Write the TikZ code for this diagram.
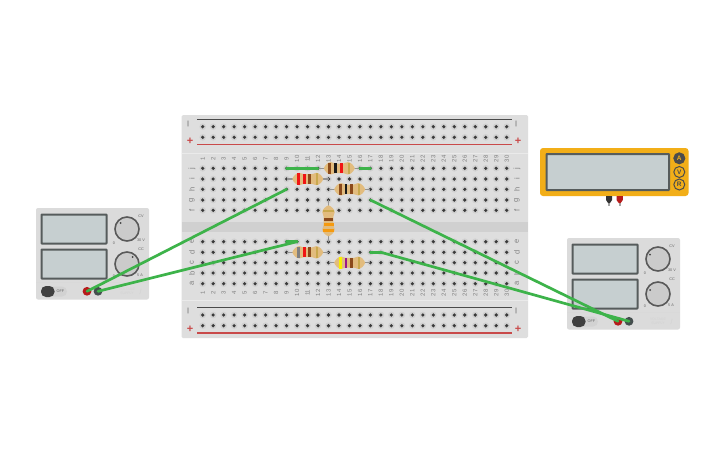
\documentclass[tikz,border=0pt]{standalone}
\usepackage{fontspec}
\setmainfont{Liberation Sans}
\definecolor{boardc}{HTML}{DEDEDE}
\definecolor{bandc}{HTML}{D0D0D0}
\definecolor{sepc}{HTML}{EAEAEA}
\definecolor{haloc}{HTML}{D0D0D0}
\definecolor{holec}{HTML}{3A3A3A}
\definecolor{labelc}{HTML}{808080}
\definecolor{wirec}{HTML}{3DB34A}
\definecolor{railred}{HTML}{C94A4A}
\definecolor{railblack}{HTML}{4A4A4A}
\definecolor{tan}{HTML}{E2BC7E}
\definecolor{rbrown}{HTML}{8B4A1C}
\definecolor{rblack}{HTML}{1A1A1A}
\definecolor{rred}{HTML}{F01414}
\definecolor{rorange}{HTML}{F59A0F}
\definecolor{ryellow}{HTML}{F7F000}
\definecolor{rviolet}{HTML}{9A1A8C}
\definecolor{rgrey}{HTML}{808080}
\definecolor{rgold}{HTML}{C9A94E}
\definecolor{lcd}{HTML}{C6CFD0}
\definecolor{lcdframe}{HTML}{565C5C}
\definecolor{psubody}{HTML}{DBDBDB}
\definecolor{knobc}{HTML}{CBCBCB}
\definecolor{meterc}{HTML}{F2AE18}
\definecolor{termred}{HTML}{B71C1C}
\definecolor{termdark}{HTML}{454E4E}
\tikzset{
  boardbody/.style={fill=boardc,rounded corners=1.5},
  rowlabel/.style={font=\fontsize{6}{6}\selectfont,text=labelc,rotate=90,inner sep=0pt},
  signminus/.style={font=\fontsize{12}{12}\selectfont,text=labelc,inner sep=0pt},
  signplus/.style={font=\bfseries\fontsize{11}{11}\selectfont,text=railred,inner sep=0pt},
  wire/.style={draw=wirec,line width=2.7pt,line cap=round},
  lead/.style={draw=gray!85,line width=1.4pt},
  lcdbox/.style={fill=lcd,draw=lcdframe,line width=2pt,rounded corners=0.5},
  knobstyle/.style={fill=knobc,draw=gray!70!black,line width=1.6pt},
  tiny/.style={font=\fontsize{3.8}{4}\selectfont,text=gray!80!black,inner sep=0pt},
  faint/.style={font=\fontsize{3.4}{3.8}\selectfont,text=gray!35,inner sep=0pt,align=center},
  meterbtn/.style={circle,draw=black!70,line width=1pt,minimum size=11pt,inner sep=0pt,font=\bfseries\fontsize{6.5}{6.5}\selectfont,text=black!70},
}
% centre x, centre y, rotation, colours of bands 1-4
\newcommand{\resistorbody}[7]{%
  \begin{scope}[shift={(#1,#2)},rotate=#3]
    \fill[tan] (-15.5,0) .. controls (-14.5,-2.8) and (-11.5,-6.2) .. (-8.5,-6.2)
      .. controls (-6.5,-6.2) and (-6,-4.8) .. (-4,-4.8) -- (4,-4.8)
      .. controls (6,-4.8) and (6.5,-6.2) .. (8.5,-6.2)
      .. controls (11.5,-6.2) and (14.5,-2.8) .. (15.5,0)
      .. controls (14.5,2.8) and (11.5,6.2) .. (8.5,6.2)
      .. controls (6.5,6.2) and (6,4.8) .. (4,4.8) -- (-4,4.8)
      .. controls (-6,4.8) and (-6.5,6.2) .. (-8.5,6.2)
      .. controls (-11.5,6.2) and (-14.5,2.8) .. (-15.5,0) -- cycle;
    \fill[#4] (-11,-5.8) rectangle (-8,5.8);
    \fill[#5] (-5.1,-5) rectangle (-2.3,5);
    \fill[#6] (0.2,-4.9) rectangle (3.2,4.9);
    \fill[#7] (8.5,-5.8) rectangle (10.4,5.8);
  \end{scope}}
% PSU: x and y offset, knob dots
\newcommand{\psu}[7]{%
  \begin{scope}[shift={(#1,#2)}]
    \fill[psubody,rounded corners=2] (36,208) rectangle (149,299.5);
    \draw[gray!30,line width=0.5pt] (36,282) -- (149,282);
    \draw[lcdbox] (41.5,214.5) rectangle (106.5,243.5);
    \draw[lcdbox] (41.5,249.5) rectangle (106.5,278.5);
    \draw[knobstyle] (127,229) circle (12);
    \draw[knobstyle] (127,264) circle (12);
    \fill[black!75] (#3,#4) circle (1);
    \fill[black!75] (#5,#6) circle (1);
    \node[tiny,name=#7a] at (141,216) {CV};
    \node[tiny,name=#7b] at (114,243) {0};
    \node[tiny,name=#7c] at (141,240) {30 V};
    \node[tiny,name=#7d] at (141,249.5) {CC};
    \node[tiny,name=#7e] at (114,276) {0};
    \node[tiny,name=#7f] at (140,275.5) {5 A};
    \fill[gray!35,rounded corners=5] (42,286.5) rectangle (67,296.5);
    \fill[black!75,rounded corners=5] (41,286) rectangle (54.5,297);
    \node[tiny,name=#7g] at (60.5,291.5) {OFF};
    \node[faint,name=#7h] at (127,291.5) {VOLTAGE\\SUPPLY};
    \node[faint,name=#7i,font=\fontsize{7}{7}\selectfont] at (140.5,291.5) {\char"2F};
  \end{scope}}
\begin{document}
\begin{tikzpicture}[x=1pt,y=-1pt]
\useasboundingbox (0,0) rectangle (725,453);
\fill[white] (0,0) rectangle (725,453);
% breadboard
\fill[boardbody] (181.5,115) rectangle (528,338);
\fill[bandc] (181.5,222) rectangle (528,232);
\draw[sepc,line width=0.8pt] (181.5,153) -- (528,153);
\draw[sepc,line width=0.8pt] (181.5,300) -- (528,300);
\draw[railblack,line width=1.2pt] (197,119.3) -- (512,119.3);
\draw[railred,line width=1.2pt] (197,144.3) -- (512,144.3);
\draw[railblack,line width=1.2pt] (197,307.7) -- (512,307.7);
\draw[railred,line width=1.2pt] (197,333) -- (512,333);
\node[signminus,rotate=90,name=m1] at (190,123.5) {−};
\node[signminus,rotate=90,name=m2] at (518,123.5) {−};
\node[signminus,rotate=90,name=m3] at (190,311) {−};
\node[signminus,rotate=90,name=m4] at (518,311) {−};
\node[signplus,name=p1] at (190,141.5) {+};
\node[signplus,name=p2] at (518,141.5) {+};
\node[signplus,name=p3] at (190,329.5) {+};
\node[signplus,name=p4] at (518,329.5) {+};
% holes
\foreach \r/\yy in {pa/126.7,pb/137.3,j/168.3,i/179,h/189.3,g/200,f/210.3,e/241.7,d/252.3,c/262.7,b/273,a/283.7,qa/315,qb/325.7}{
  \foreach \c in {1,...,30}{
    \pgfmathsetmacro{\xx}{202.7+(\c-1)*10.483}
    \fill[haloc] (\xx,\yy) circle (3.3);
    \fill[holec] (\xx,\yy) circle (1.8);
    \coordinate (\r\c) at (\xx,\yy);
  }
}
% labels
\foreach \c in {1,...,30}{
  \pgfmathsetmacro{\xx}{202.7+(\c-1)*10.483}
  \node[rowlabel,name=nt\c] at (\xx,158.8) {\c};
  \node[rowlabel,name=nb\c] at (\xx,292.8) {\c};
}
\foreach \r/\yy in {j/168.3,i/179,h/189.3,g/200,f/210.3,e/241.7,d/252.3,c/262.7,b/273,a/283.7}{
  \node[rowlabel,name=ll\r,font=\fontsize{7.5}{7.5}\selectfont] at (192,\yy) {\r};
  \node[rowlabel,name=lr\r,font=\fontsize{7.5}{7.5}\selectfont] at (517,\yy) {\r};
}
% multimeter
\fill[meterc,rounded corners=3] (540,148) rectangle (688.5,196);
\draw[lcdbox] (546.5,154) rectangle (669,190);
\node[meterbtn,fill=black!70,text=meterc,name=btnA] at (679.3,158.3) {A};
\node[meterbtn,name=btnV] at (679.3,172) {V};
\node[meterbtn,name=btnR] at (679.3,184.5) {R};
\fill[gray!70] (608,200) rectangle (610,205.5);
\fill[gray!70] (618.7,200) rectangle (620.7,205.5);
\fill[black!80] (606,196) -- (612,196) -- (612,200) -- (610,203) -- (608,203) -- (606,200) -- cycle;
\fill[termred] (616.5,196) -- (622.8,196) -- (622.8,200) -- (620.7,203) -- (618.7,203) -- (616.5,200) -- cycle;
% power supplies
\psu{0}{0}{120.7}{223}{132.7}{257}{sa}
\psu{531}{30}{119}{224.7}{119}{260}{sb}
\coordinate (lred) at (87,291.3);
\coordinate (lblack) at (98,291.3);
\coordinate (rred) at (618,321.3);
\coordinate (rblack) at (629,321.3);
\fill[termred] (lred) circle (4.4);
\fill[termdark] (lblack) circle (4.4);
\fill[termred] (rred) circle (4.4);
\fill[termdark] (rblack) circle (4.4);
% resistors
\draw[lead] (j12) -- (j16);
\draw[lead] (i9) -- (i13);
\draw[lead] (h13) -- (h17);
\draw[lead] (g13) -- (e13);
\draw[lead] (d9) -- (d13);
\draw[lead] (c13) -- (c17);
\resistorbody{339.3}{168.3}{0}{rbrown}{rblack}{rred}{rgold}
\resistorbody{307.8}{179}{0}{rred}{rred}{rbrown}{rgold}
\resistorbody{349.7}{189.3}{0}{rbrown}{rblack}{rbrown}{rgold}
\resistorbody{328.5}{220.8}{90}{rorange}{rorange}{rbrown}{rgold}
\resistorbody{307.8}{252.3}{0}{rgrey}{rred}{rbrown}{rgold}
\resistorbody{349.7}{262.7}{0}{ryellow}{rviolet}{rbrown}{rgold}
% wires
\draw[wire] (j9) -- (j12);
\draw[wire] (j16) -- (j17);
\draw[wire] (e9) -- (e10);
\draw[wire] (d17) -- (d18);
\draw[wire] (h9) -- (lred);
\draw[wire] (e10) -- (lblack);
\draw[wire] (g17) -- (rred);
\draw[wire] (d18) -- (rblack);
\end{tikzpicture}
\end{document}
